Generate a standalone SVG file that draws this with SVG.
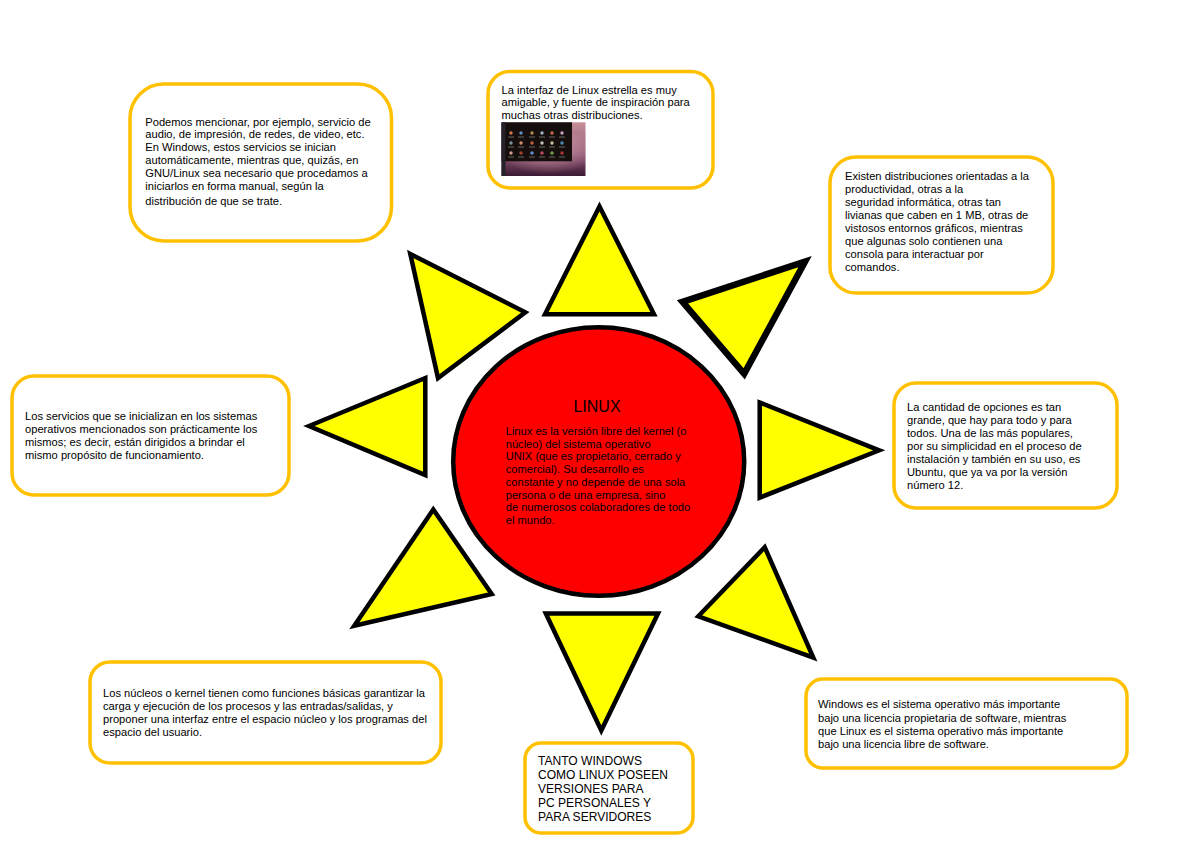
<svg xmlns="http://www.w3.org/2000/svg" width="1200" height="849" viewBox="0 0 1200 849">
<style>
.b{fill:#fff;stroke:#ffc000;stroke-width:3.5}
.t{fill:#ff0;stroke:#000;stroke-width:4.5;stroke-linejoin:miter;stroke-miterlimit:10}
text{font-family:"Liberation Sans",Arial,sans-serif;font-size:11.15px;fill:#000}
.l{font-size:12.05px}
.h{font-size:16px}
.cap{fill:#8a8580;opacity:.7}
</style>
<defs>
<linearGradient id="wall" x1="0" y1="0" x2="0" y2="1"><stop offset="0" stop-color="#c58f98"/><stop offset=".6" stop-color="#8f5673"/><stop offset="1" stop-color="#3c1a33"/></linearGradient>
<radialGradient id="glow" cx=".55" cy=".35" r=".6"><stop offset="0" stop-color="#d8a6b4" stop-opacity=".8"/><stop offset="1" stop-color="#d8a6b4" stop-opacity="0"/></radialGradient>
<filter id="soft" x="-5%" y="-5%" width="110%" height="110%"><feGaussianBlur stdDeviation=".45"/></filter>
</defs>
<rect width="1200" height="849" fill="#fff"/>
<g id="connectors">
<polygon class="t" points="599.5,206.5 654,314.2 545,314.2"/>
<polygon class="t" points="805,261.7 744.2,373.8 682.5,301.8" style="stroke-width:6.5"/>
<polygon class="t" points="879.2,450.3 759.7,402.5 759.7,497.7"/>
<polygon class="t" points="764.7,547.2 813.3,657.7 698.3,616.3"/>
<polygon class="t" points="601.3,730.5 545.8,613.4 658,613.4"/>
<polygon class="t" points="354.3,625.8 433.3,509.5 491.7,594"/>
<polygon class="t" points="309,426 425.3,378 425.3,475"/>
<polygon class="t" points="410.3,254 525.3,312.3 438,378"/>
</g>
<g id="center">
<ellipse cx="598.7" cy="461.5" rx="145.5" ry="134.3" fill="#f00" stroke="#000" stroke-width="4.5"/>
<text class="h" x="597" y="411.5" text-anchor="middle">LINUX</text>
<text x="505.7" y="435">Linux es la versión libre del kernel (o</text>
<text x="505.7" y="447.7">núcleo) del sistema operativo</text>
<text x="505.7" y="460.4">UNIX (que es propietario, cerrado y</text>
<text x="505.7" y="473.1">comercial). Su desarrollo es</text>
<text x="505.7" y="485.8">constante y no depende de una sola</text>
<text x="505.7" y="498.5">persona o de una empresa, sino</text>
<text x="505.7" y="511.2">de numerosos colaboradores de todo</text>
<text x="505.7" y="524">el mundo.</text>
</g>
<g id="n-top">
<rect class="b" x="488" y="71.5" width="225" height="116.5" rx="22"/>
<text x="501.5" y="93.5">La interfaz de Linux estrella es muy</text>
<text x="501.5" y="106.3">amigable, y fuente de inspiración para</text>
<text x="501.5" y="119.2">muchas otras distribuciones.</text>
<g filter="url(#soft)">
<rect x="501.5" y="122.3" width="84" height="53.7" fill="url(#wall)"/>
<rect x="501.5" y="135" width="84" height="41" fill="url(#glow)"/>
<rect x="501.5" y="122.3" width="70.5" height="39" fill="#15110f"/>
<rect x="501.5" y="122.3" width="4" height="53.7" fill="#26222a"/>
<g>
<circle cx="511" cy="133" r="1.7" fill="#d0784a"/><circle cx="521" cy="133" r="1.7" fill="#5f8fc0"/><circle cx="532" cy="133" r="1.7" fill="#b08a50"/><circle cx="542" cy="133" r="1.7" fill="#a0b0c8"/><circle cx="552" cy="133" r="1.7" fill="#c86a50"/><circle cx="562" cy="133" r="1.7" fill="#c8a0c0"/>
<circle cx="511" cy="143" r="1.7" fill="#8090a0"/><circle cx="521" cy="143" r="1.7" fill="#d09070"/><circle cx="532" cy="143" r="1.7" fill="#c06040"/><circle cx="542" cy="143" r="1.7" fill="#c0c0b8"/><circle cx="552" cy="143" r="1.7" fill="#c8c0a0"/><circle cx="562" cy="143" r="1.7" fill="#5088b8"/>
<circle cx="511" cy="153" r="1.7" fill="#d0a090"/><circle cx="521" cy="153" r="1.7" fill="#a04030"/><circle cx="532" cy="153" r="1.7" fill="#6090d0"/><circle cx="542" cy="153" r="1.7" fill="#c04860"/><circle cx="552" cy="153" r="1.7" fill="#70a050"/><circle cx="562" cy="153" r="1.7" fill="#b03030"/>
</g>
<g class="cap">
<rect x="508" y="136.5" width="6" height="1"/><rect x="518" y="136.5" width="6" height="1"/><rect x="529" y="136.5" width="6" height="1"/><rect x="539" y="136.5" width="6" height="1"/><rect x="549" y="136.5" width="6" height="1"/><rect x="559" y="136.5" width="6" height="1"/>
<rect x="508" y="146.5" width="6" height="1"/><rect x="518" y="146.5" width="6" height="1"/><rect x="529" y="146.5" width="6" height="1"/><rect x="539" y="146.5" width="6" height="1"/><rect x="549" y="146.5" width="6" height="1"/><rect x="559" y="146.5" width="6" height="1"/>
<rect x="508" y="156.5" width="6" height="1"/><rect x="518" y="156.5" width="6" height="1"/><rect x="529" y="156.5" width="6" height="1"/><rect x="539" y="156.5" width="6" height="1"/><rect x="549" y="156.5" width="6" height="1"/><rect x="559" y="156.5" width="6" height="1"/>
</g>
</g>
</g>
<g id="n-topleft">
<rect class="b" x="130" y="84" width="261.5" height="157" rx="34"/>
<text x="145.3" y="125.5">Podemos mencionar, por ejemplo, servicio de</text>
<text x="145.3" y="138.3">audio, de impresión, de redes, de video, etc.</text>
<text x="145.3" y="151.1">En Windows, estos servicios se inician</text>
<text x="145.3" y="163.9">automáticamente, mientras que, quizás, en</text>
<text x="145.3" y="176.7">GNU/Linux sea necesario que procedamos a</text>
<text x="145.3" y="189.5">iniciarlos en forma manual, según la</text>
<text x="145.3" y="204.5">distribución de que se trate.</text>
</g>
<g id="n-topright">
<rect class="b" x="830" y="157" width="223" height="136" rx="26"/>
<text x="845" y="180">Existen distribuciones orientadas a la</text>
<text x="845" y="193">productividad, otras a la</text>
<text x="845" y="206">seguridad informática, otras tan</text>
<text x="845" y="219">livianas que caben en 1 MB, otras de</text>
<text x="845" y="232">vistosos entornos gráficos, mientras</text>
<text x="845" y="245">que algunas solo contienen una</text>
<text x="845" y="258">consola para interactuar por</text>
<text x="845" y="271">comandos.</text>
</g>
<g id="n-right">
<rect class="b" x="894" y="383" width="223" height="125" rx="22"/>
<text x="907" y="411">La cantidad de opciones es tan</text>
<text x="907" y="424">grande, que hay para todo y para</text>
<text x="907" y="437">todos. Una de las más populares,</text>
<text x="907" y="450">por su simplicidad en el proceso de</text>
<text x="907" y="463">instalación y también en su uso, es</text>
<text x="907" y="476">Ubuntu, que ya va por la versión</text>
<text x="907" y="489">número 12.</text>
</g>
<g id="n-left">
<rect class="b" x="12" y="376" width="277" height="119" rx="22"/>
<text x="25" y="420">Los servicios que se inicializan en los sistemas</text>
<text x="25" y="433">operativos mencionados son prácticamente los</text>
<text x="25" y="446">mismos; es decir, están dirigidos a brindar el</text>
<text x="25" y="459">mismo propósito de funcionamiento.</text>
</g>
<g id="n-bottomleft">
<rect class="b" x="90" y="662" width="351" height="101" rx="20"/>
<text x="103" y="697">Los núcleos o kernel tienen como funciones básicas garantizar la</text>
<text x="103" y="710">carga y ejecución de los procesos y las entradas/salidas, y</text>
<text x="103" y="723">proponer una interfaz entre el espacio núcleo y los programas del</text>
<text x="103" y="736">espacio del usuario.</text>
</g>
<g id="n-bottom">
<rect class="b" x="525" y="743" width="168" height="90" rx="16"/>
<text class="l" x="538" y="765">TANTO WINDOWS</text>
<text class="l" x="538" y="779">COMO LINUX POSEEN</text>
<text class="l" x="538" y="793">VERSIONES PARA</text>
<text class="l" x="538" y="807">PC PERSONALES Y</text>
<text class="l" x="538" y="821">PARA SERVIDORES</text>
</g>
<g id="n-bottomright">
<rect class="b" x="806" y="679" width="321" height="89" rx="17"/>
<text x="818" y="708">Windows es el sistema operativo más importante</text>
<text x="818" y="722">bajo una licencia propietaria de software, mientras</text>
<text x="818" y="735">que Linux es el sistema operativo más importante</text>
<text x="818" y="748">bajo una licencia libre de software.</text>
</g>
</svg>
